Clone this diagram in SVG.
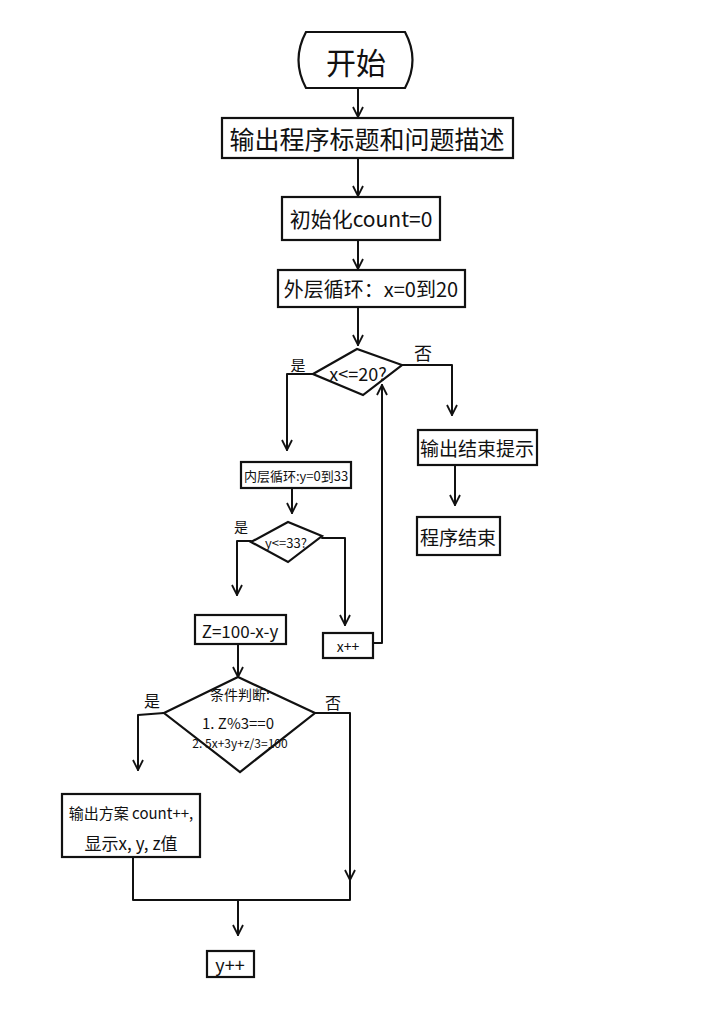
<svg xmlns="http://www.w3.org/2000/svg" width="719" height="1028" viewBox="0 0 719 1028">
<style>
.s{fill:none;stroke:#111;stroke-width:2;stroke-linejoin:round;stroke-linecap:round}
.b{fill:#fff;stroke:#111;stroke-width:2.2}
.t{font-family:"Noto Sans CJK SC","Liberation Sans",sans-serif;fill:#111;text-anchor:middle;dominant-baseline:central}
</style>
<defs>
<marker id="ah" viewBox="0 0 12 12" refX="11" refY="6" markerWidth="12" markerHeight="12" markerUnits="userSpaceOnUse" orient="auto">
<path d="M1,1 L11,6 L1,11" fill="none" stroke="#111" stroke-width="1.8"/>
</marker>
</defs>
<rect width="719" height="1028" fill="#fff"/>
<g id="connectors">
<line class="s" x1="358" y1="88" x2="358" y2="117" marker-end="url(#ah)"/>
<line class="s" x1="358" y1="158" x2="358" y2="196" marker-end="url(#ah)"/>
<line class="s" x1="358" y1="240" x2="358" y2="269" marker-end="url(#ah)"/>
<line class="s" x1="358" y1="307" x2="358" y2="345" marker-end="url(#ah)"/>
<polyline class="s" points="313,374 287,374 287,450" marker-end="url(#ah)"/>
<polyline class="s" points="402,365 452,365 452,415" marker-end="url(#ah)"/>
<line class="s" x1="455" y1="465" x2="455" y2="505" marker-end="url(#ah)"/>
<line class="s" x1="292" y1="488" x2="292" y2="513" marker-end="url(#ah)"/>
<polyline class="s" points="251,541 237,541 237,595" marker-end="url(#ah)"/>
<polyline class="s" points="322,538 345,538 345,625" marker-end="url(#ah)"/>
<polyline class="s" points="373,643 382,643 382,385" marker-end="url(#ah)"/>
<line class="s" x1="238" y1="644" x2="238" y2="677" marker-end="url(#ah)"/>
<polyline class="s" points="164,713 138,715 138,770" marker-end="url(#ah)"/>
<polyline class="s" points="315,713 350,713 350,880" marker-end="url(#ah)"/>
<polyline class="s" points="133,857 133,900 350,900 350,880"/>
<line class="s" x1="238" y1="900" x2="238" y2="935" marker-end="url(#ah)"/>
</g>
<g id="start">
<path class="b" d="M306,32 L405,32 Q420,60 405,88 L306,88 Q291,60 306,32 Z"/>
<text class="t" x="356" y="61" font-size="30">开始</text>
</g>
<g id="title">
<rect class="b" x="222" y="118" width="291" height="40"/>
<text class="t" x="367" y="138" font-size="25">输出程序标题和问题描述</text>
</g>
<g id="init">
<rect class="b" x="282" y="197" width="158" height="43"/>
<text class="t" x="361" y="218" font-size="21">初始化count=0</text>
</g>
<g id="outer">
<rect class="b" x="278" y="270" width="187" height="37"/>
<text class="t" x="371" y="288" font-size="20">外层循环：x=0到20</text>
</g>
<g id="cond1">
<polygon class="b" points="313,374 357,349 402,365 363,395"/>
<text class="t" x="358" y="373" font-size="18">x&lt;=20?</text>
<text class="t" x="298" y="364" font-size="15">是</text>
<text class="t" x="423" y="352" font-size="18">否</text>
</g>
<g id="endmsg">
<rect class="b" x="418" y="430" width="119" height="35"/>
<text class="t" x="477" y="447" font-size="19">输出结束提示</text>
</g>
<g id="end">
<rect class="b" x="417" y="517" width="83" height="38"/>
<text class="t" x="458" y="536" font-size="19">程序结束</text>
</g>
<g id="inner">
<rect class="b" x="241" y="462" width="110" height="26"/>
<text class="t" x="296" y="475" font-size="13">内层循环:y=0到33</text>
</g>
<g id="cond2">
<polygon class="b" points="251,542 288,522 322,536 288,562"/>
<text class="t" x="286" y="542" font-size="13">y&lt;=33?</text>
<text class="t" x="241" y="526" font-size="14">是</text>
</g>
<g id="calcz">
<rect class="b" x="195" y="615" width="91" height="29"/>
<text class="t" x="240" y="630" font-size="17">Z=100-x-y</text>
</g>
<g id="xinc">
<rect class="b" x="323" y="633" width="50" height="25"/>
<text class="t" x="348" y="646" font-size="14">x++</text>
</g>
<g id="cond3">
<polygon class="b" points="164,713 238,677 315,713 240,772"/>
<text class="t" x="240" y="694" font-size="14">条件判断:</text>
<text class="t" x="238" y="722" font-size="15">1. Z%3==0</text>
<text class="t" x="240" y="742" font-size="12">2. 5x+3y+z/3=100</text>
<text class="t" x="152" y="700" font-size="16">是</text>
<text class="t" x="333" y="702" font-size="16">否</text>
</g>
<g id="output">
<rect class="b" x="62" y="794" width="138" height="63"/>
<text class="t" x="131" y="812" font-size="15">输出方案 count++,</text>
<text class="t" x="131" y="842" font-size="17">显示x, y, z值</text>
</g>
<g id="yinc">
<rect class="b" x="207" y="951" width="47" height="26"/>
<text class="t" x="230" y="964" font-size="18">y++</text>
</g>
</svg>
